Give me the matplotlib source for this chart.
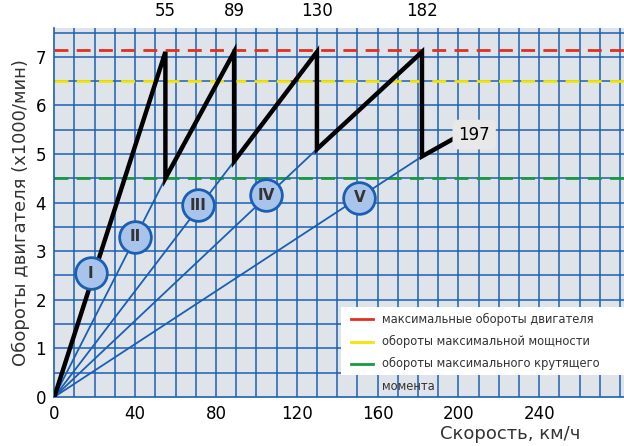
import matplotlib.pyplot as plt
import numpy as np

# shift points (speed km/h, rpm x1000)
shift_speed = [55, 89, 130, 182]
top_rpm = 7.1
drop_rpm = [4.5, 4.85, 5.1, 4.95]
end_speed, end_rpm = 197, 5.3

gears = ["I", "II", "III", "IV", "V"]
gear_label_x = [18, 40, 71, 105, 151]
gear_label_y = [2.55, 3.3, 3.95, 4.15, 4.1]

rpm_max, rpm_power, rpm_torque = 7.15, 6.5, 4.5

fig = plt.figure(figsize=(6.24, 4.46), dpi=100)
ax = fig.add_axes([0.087, 0.11, 0.913, 0.828])
ax.set_facecolor("#dfe4ea")
ax.set_xlim(0, 282)
ax.set_ylim(0, 7.6)
grid_c = "#1f5fb0"
for x in np.arange(10, 282, 10):
    ax.axvline(x, color=grid_c, lw=1.1, zorder=1)
for y in np.arange(0.5, 7.6, 0.5):
    ax.axhline(y, color=grid_c, lw=1.1, zorder=1)

ax.axhline(rpm_max, color="#e03020", lw=2, ls=(0, (5, 3)), zorder=2)
ax.axhline(rpm_power, color="#f2e600", lw=2, ls=(0, (5, 3)), zorder=2)
ax.axhline(rpm_torque, color="#1a9a40", lw=2, ls=(0, (5, 3)), zorder=2)

# thin gear lines from origin
for s, r in zip(shift_speed, drop_rpm):
    ax.plot([0, s], [0, r], color="#1a5fb4", lw=1.3, zorder=3)

# sawtooth
xs, ys = [0], [0]
for s, r in zip(shift_speed, drop_rpm):
    xs += [s, s]
    ys += [top_rpm, r]
xs.append(end_speed)
ys.append(end_rpm)
ax.plot(xs, ys, color="black", lw=3.2, zorder=4, solid_joinstyle="miter")

for g, x, y in zip(gears, gear_label_x, gear_label_y):
    ax.scatter([x], [y], s=520, color="#a9c4ea", edgecolor="#1a5fb4", lw=2, zorder=5)
    ax.text(x, y, g, ha="center", va="center", fontsize=11, fontweight="bold",
            color="#333333", zorder=6)

for s in shift_speed:
    ax.text(s, 7.75, str(s), ha="center", va="bottom", fontsize=12, clip_on=False)
ax.text(end_speed + 3, 5.4, str(end_speed), ha="left", va="center", fontsize=12, zorder=6,
        bbox=dict(boxstyle="round,pad=0.35", fc="#e8e8e8", ec="none"))

# legend box
ax.add_patch(plt.Rectangle((142, 0.45), 150, 1.4, fc="white", ec="none", zorder=6))
leg = [("#e03020", "максимальные обороты двигателя", 1.6),
       ("#f2e600", "обороты максимальной мощности", 1.14),
       ("#1a9a40", "обороты максимального крутящего", 0.68)]
for c, t, y in leg:
    ax.plot([147, 158], [y, y], color=c, lw=2, zorder=7)
    ax.text(162, y, t, va="center", fontsize=8.3, color="#333333", zorder=7)
ax.text(162, 0.22, "момента", va="center", fontsize=8.3, color="#333333", zorder=7)

ax.set_xticks([0, 40, 80, 120, 160, 200, 240])
ax.set_yticks(range(0, 8))
ax.tick_params(labelsize=12, length=0, pad=6)
for sp in ax.spines.values():
    sp.set_color(grid_c)
    sp.set_linewidth(1.2)
ax.spines["top"].set_visible(False)
ax.spines["right"].set_visible(False)
ax.set_xlabel("Скорость, км/ч", fontsize=13, labelpad=1, color="#333333")
ax.xaxis.set_label_coords(0.8, -0.075)
ax.set_ylabel("Обороты двигателя (x1000/мин)", fontsize=13, color="#333333")
fig.savefig("out.png")
